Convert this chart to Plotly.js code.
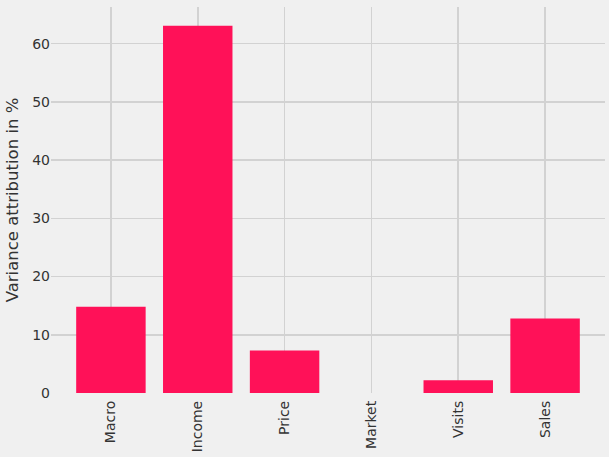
<!DOCTYPE html>
<html>
<head>
<meta charset="utf-8">
<script src="https://cdn.plot.ly/plotly-3.0.1.min.js"></script>
<style>html,body{margin:0;padding:0;background:#f0f0f0;}#chart{width:609px;height:457px;}</style>
</head>
<body>
<div id="chart"></div>
<script>
const categories = ["Macro", "Income", "Price", "Market", "Visits", "Sales"];
const variancePct = [14.8, 63.1, 7.3, 0.0, 2.2, 12.8];
const yTicks = [0, 10, 20, 30, 40, 50, 60];

const trace = {
  type: "bar",
  x: categories,
  y: variancePct,
  marker: {color: "#ff1158", line: {width: 0}},
  hoverinfo: "x+y"
};

const layout = {
  width: 609, height: 457,
  paper_bgcolor: "#f0f0f0",
  plot_bgcolor: "#f0f0f0",
  margin: {l: 51, r: 4, t: 7, b: 64},
  bargap: 0.2,
  showlegend: false,
  font: {family: "DejaVu Sans, sans-serif", color: "#333", size: 14},
  xaxis: {
    type: "category",
    range: [-0.69, 5.69],
    showgrid: true, gridcolor: "#d2d2d2", gridwidth: 1.6,
    zeroline: false, showline: false,
    tickangle: -90,
    ticks: "", ticklen: 0,
    ticklabelstandoff: 4,
    tickfont: {size: 14, color: "#333"}
  },
  yaxis: {
    range: [0, 66.3],
    tickvals: yTicks,
    showgrid: true, gridcolor: "#d2d2d2", gridwidth: 1.6,
    zeroline: false, showline: false,
    ticks: "", ticklen: 0,
    tickfont: {size: 14, color: "#333"},
    title: {text: "Variance attribution in %", font: {size: 16.5, color: "#333"}, standoff: 9}
  }
};

Plotly.newPlot("chart", [trace], layout, {displayModeBar: false, staticPlot: true});
</script>
</body>
</html>
